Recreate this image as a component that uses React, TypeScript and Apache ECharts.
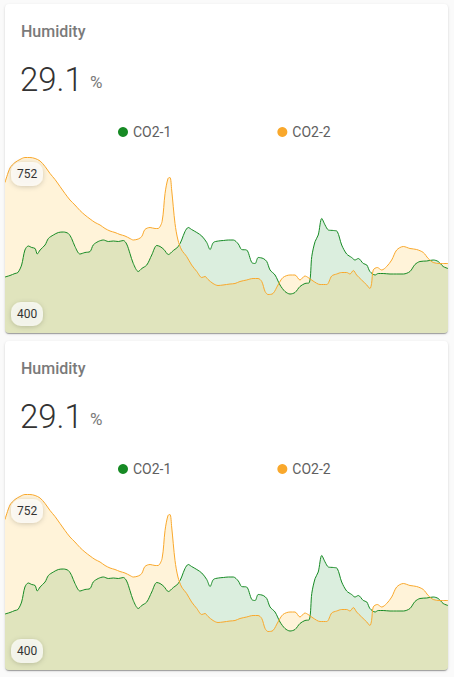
import React, { useEffect, useRef } from "react";
import * as echarts from "echarts";

const cardTitle = "Humidity";
const stateValue = "29.1";
const stateUnit = "%";
const seriesNames = ["CO2-1", "CO2-2"];
const seriesColors = ["#168a24", "#f9a82c"];
const areaColors = ["#108a20", "#ffb100"];

const co2_1Hours = [
  0, 0.27, 0.54, 0.7, 0.9, 1.08, 1.26, 1.45, 1.63, 1.75, 1.9, 2.17, 2.35, 2.62, 2.89,
  3.16, 3.43, 3.61, 3.79, 4.06, 4.33, 4.61, 4.78, 5.05, 5.33, 5.6, 5.87, 6.14, 6.41, 6.59,
  6.77, 6.95, 7.22, 7.41, 7.68, 7.95, 8.22, 8.4, 8.61, 8.85, 9.12, 9.39, 9.57, 9.75, 9.93,
  10.11, 10.39, 10.66, 10.93, 11.11, 11.29, 11.56, 11.83, 12.1, 12.37, 12.64, 12.82, 13.09, 13.37, 13.55,
  13.72, 13.99, 14.18, 14.36, 14.63, 14.9, 15.17, 15.44, 15.71, 15.98, 16.25, 16.49, 16.62, 16.8, 16.97,
  17.16, 17.34, 17.52, 17.79, 18.0, 18.24, 18.51, 18.78, 18.96, 19.14, 19.41, 19.6, 19.77, 20.05, 20.22,
  20.49, 20.86, 21.22, 21.58, 21.94, 22.21, 22.48, 22.84, 23.2, 23.47, 23.74, 24.0,
];
const co2_1Values = [
  512, 515, 519, 521, 536, 566, 574, 571, 569, 558, 566, 576, 589, 596, 601,
  602, 599, 589, 573, 558, 561, 563, 576, 583, 586, 583, 584, 583, 585, 578,
  559, 539, 523, 529, 536, 556, 575, 573, 567, 557, 565, 573, 586, 603, 611,
  607, 601, 594, 581, 567, 581, 584, 585, 586, 586, 578, 567, 566, 541, 539,
  551, 549, 543, 526, 516, 496, 483, 478, 481, 493, 499, 501, 553, 583, 596,
  629, 616, 606, 605, 603, 576, 558, 551, 546, 549, 539, 536, 523, 516, 519,
  519, 518, 518, 518, 523, 537, 543, 544, 546, 543, 533, 529,
];

const co2_2Hours = [
  0, 0.27, 0.54, 0.81, 1.08, 1.35, 1.63, 1.9, 2.17, 2.44, 2.71, 2.98, 3.25, 3.52, 3.79,
  4.06, 4.33, 4.61, 4.88, 5.15, 5.42, 5.69, 5.96, 6.23, 6.5, 6.77, 6.95, 7.22, 7.41, 7.58,
  7.86, 8.13, 8.29, 8.51, 8.67, 8.83, 8.94, 9.03, 9.21, 9.37, 9.57, 9.84, 10.11, 10.39, 10.66,
  10.84, 11.0, 11.27, 11.54, 11.81, 12.19, 12.46, 12.73, 13.09, 13.44, 13.71, 13.91, 14.09, 14.25, 14.52,
  14.79, 15.06, 15.44, 15.71, 15.98, 16.25, 16.42, 16.69, 17.07, 17.43, 17.7, 17.97, 18.24, 18.51, 18.69,
  18.87, 19.05, 19.32, 19.6, 19.77, 19.86, 19.95, 20.17, 20.41, 20.68, 20.95, 21.22, 21.58, 21.94, 22.3,
  22.66, 22.93, 23.2, 23.57, 24.0,
];
const co2_2Values = [
  701, 730, 741, 747, 751, 751, 749, 744, 733, 719, 707, 693, 679, 666, 656,
  645, 636, 628, 621, 616, 609, 604, 601, 597, 594, 589, 586, 588, 593, 607,
  611, 609, 609, 623, 679, 709, 711, 686, 619, 586, 566, 553, 536, 523, 511,
  513, 507, 499, 495, 496, 498, 499, 503, 506, 509, 509, 503, 483, 477, 479,
  496, 511, 516, 516, 506, 514, 511, 504, 497, 497, 514, 518, 521, 521, 518,
  525, 516, 506, 496, 489, 499, 526, 531, 526, 533, 546, 566, 573, 569, 567,
  561, 549, 541, 539, 539,
];

const xMin = 0;
const xMax = 24;
const yMin = 400;
const yMax = 752;
const yTickLabels = [yMax, yMin];

const CARD_W = 443;
const CARD_H = 329;

function pairs(h: number[], v: number[]) {
  return h.map((x, i) => [x, v[i]]);
}

function Card({ top }: { top: number }) {
  const ref = useRef<HTMLDivElement>(null);
  useEffect(() => {
    const chart = echarts.init(ref.current!, undefined, { renderer: "svg" });
    const seriesData = [pairs(co2_1Hours, co2_1Values), pairs(co2_2Hours, co2_2Values)];
    chart.setOption({
      animation: false,
      textStyle: { fontFamily: "Roboto" },
      grid: { left: 0, right: 0, top: 153, bottom: 0, outerBoundsMode: "none", containLabel: false },
      xAxis: { type: "value", min: xMin, max: xMax, show: false },
      yAxis: { type: "value", min: yMin, max: yMax, show: false, splitLine: { show: false } },
      legend: {
        left: 108,
        top: 116,
        icon: "circle",
        itemWidth: 10,
        itemHeight: 10,
        itemGap: 106,
        data: seriesNames,
        textStyle: { fontFamily: "Roboto", fontSize: 14, color: "#606060" },
      },
      series: seriesNames.map((name, i) => ({
        name,
        type: "line",
        data: seriesData[i],
        smooth: 0.3,
        showSymbol: false,
        color: seriesColors[i],
        lineStyle: { width: 1, color: seriesColors[i] },
        areaStyle: { color: areaColors[i], opacity: 0.15, origin: "start" },
      })),
    });

    const x0 = chart.convertToPixel({ xAxisIndex: 0 }, xMin) as number;
    const yTop = chart.convertToPixel({ yAxisIndex: 0 }, yTickLabels[0]) as number;
    const yBot = chart.convertToPixel({ yAxisIndex: 0 }, yTickLabels[1]) as number;
    const boxW = 32;
    const boxH = 24;
    const boxX = x0 + 6;
    const boxYs = [yTop + 5, yBot - 31];

    const labelEls: any[] = [];
    yTickLabels.forEach((lab, i) => {
      labelEls.push({
        type: "rect",
        shape: { x: boxX, y: boxYs[i], width: boxW, height: boxH, r: 10 },
        style: {
          fill: "rgba(255,255,255,0.72)",
          shadowBlur: 5,
          shadowColor: "rgba(0,0,0,0.25)",
          shadowOffsetY: 1,
        },
        z: 100,
      });
      labelEls.push({
        type: "text",
        x: boxX + boxW / 2,
        y: boxYs[i] + boxH / 2,
        style: {
          text: String(lab),
          fontFamily: "Roboto",
          fontSize: 12,
          fill: "#333",
          align: "center",
          verticalAlign: "middle",
        },
        z: 101,
      });
    });

    chart.setOption({
      graphic: [
        {
          type: "text",
          left: 16,
          top: 19,
          style: { text: cardTitle, fontFamily: "Roboto", fontSize: 16, fontWeight: 500, fill: "#7a7a7a" },
        },
        {
          type: "text",
          left: 15,
          top: 59,
          style: { text: stateValue, fontFamily: "Roboto", fontSize: 33, fontWeight: 300, fill: "#333" },
        },
        {
          type: "text",
          left: 85,
          top: 69,
          style: { text: stateUnit, fontFamily: "Roboto", fontSize: 17, fill: "#7a7a7a" },
        },
        ...labelEls,
      ],
    });

    return () => chart.dispose();
  }, []);
  return (
    <div
      style={{
        position: "absolute",
        left: 5,
        top,
        width: CARD_W,
        height: CARD_H,
        background: "#fff",
        borderRadius: 4,
        overflow: "hidden",
        boxShadow:
          "0 2px 1px -1px rgba(0,0,0,.2), 0 1px 1px 0 rgba(0,0,0,.14), 0 1px 3px 0 rgba(0,0,0,.12)",
      }}
    >
      <div ref={ref} style={{ width: CARD_W, height: CARD_H }} />
    </div>
  );
}

export default function App() {
  return (
    <div
      style={{
        position: "fixed",
        left: 0,
        top: 0,
        width: 454,
        height: 677,
        background: "#fafafa",
        overflow: "hidden",
      }}
    >
      <Card top={4} />
      <Card top={341} />
    </div>
  );
}
